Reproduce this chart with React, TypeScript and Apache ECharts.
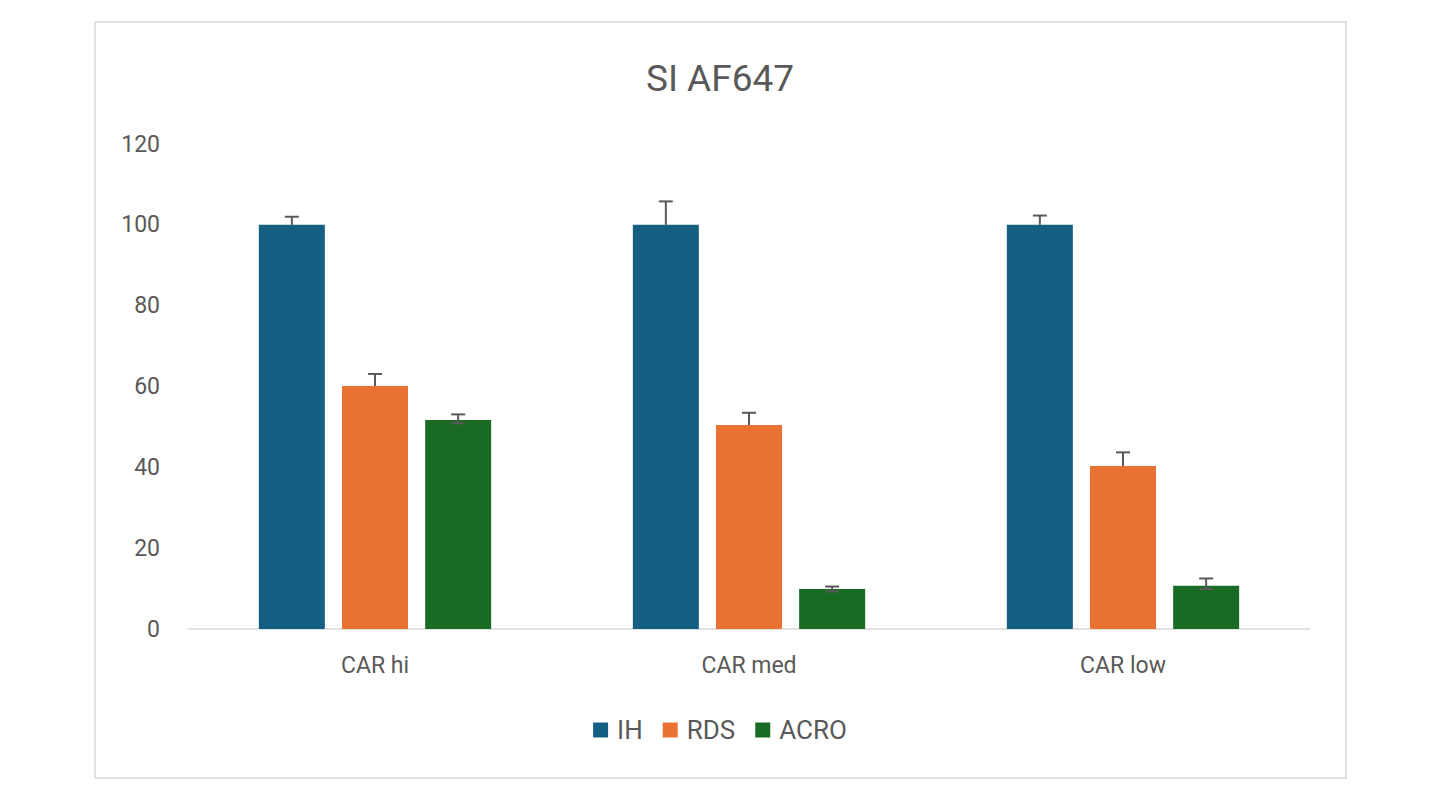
import React, { useEffect, useRef } from "react";
import * as echarts from "echarts";

const categories = ["CAR hi", "CAR med", "CAR low"];
const seriesNames = ["IH", "RDS", "ACRO"];
const ihValues = [100, 100, 100];
const rdsValues = [60.1, 50.5, 40.3];
const acroValues = [51.7, 9.9, 10.7];
// upper / lower error amounts per category
const ihErrUp = [2.0, 5.8, 2.3];
const ihErrDown = [0, 0, 0];
const rdsErrUp = [3.0, 3.0, 3.4];
const rdsErrDown = [0, 0, 0];
const acroErrUp = [1.4, 0.6, 1.8];
const acroErrDown = [0.8, 0.6, 0.8];
const colors = ["#156082", "#E97132", "#196B24"];

const BAR_WIDTH = 66;
const BAR_GAP_RATIO = 0.26;

function errorSeries(name: string, values: number[], up: number[], down: number[], idx: number) {
  const offset = (idx - 1) * BAR_WIDTH * (1 + BAR_GAP_RATIO);
  return {
    type: "custom",
    name: name + " error",
    silent: true,
    z: 10,
    data: values.map((v, i) => [i, v - down[i], v + up[i], down[i] > 0 ? 1 : 0]),
    renderItem: (params: any, api: any) => {
      const lo = api.coord([api.value(0), api.value(1)]);
      const hi = api.coord([api.value(0), api.value(2)]);
      const x = lo[0] + offset;
      const cap = 7;
      const style = { stroke: "#595959", lineWidth: 2 };
      const children: any[] = [
        { type: "line", shape: { x1: x, y1: hi[1], x2: x, y2: lo[1] }, style },
        { type: "line", shape: { x1: x - cap, y1: hi[1], x2: x + cap, y2: hi[1] }, style },
      ];
      if (api.value(3)) {
        children.push({ type: "line", shape: { x1: x - cap, y1: lo[1], x2: x + cap, y2: lo[1] }, style });
      }
      return { type: "group", children };
    },
  };
}

export default function App() {
  const ref = useRef<HTMLDivElement>(null);

  useEffect(() => {
    document.body.style.margin = "0";
    if (!ref.current) return;
    const chart = echarts.init(ref.current, undefined, { renderer: "svg" });
    const font = "Roboto, 'Noto Sans', sans-serif";
    const barBase = {
      type: "bar",
      barWidth: BAR_WIDTH,
      barGap: BAR_GAP_RATIO * 100 + "%",
    };
    chart.setOption({
      animation: false,
      textStyle: { fontFamily: font },
      title: {
        text: "SI AF647",
        left: "center",
        top: 55,
        textStyle: { fontSize: 37, fontWeight: "normal", color: "#595959", fontFamily: font },
      },
      graphic: [
        {
          type: "rect",
          shape: { x: 95, y: 22, width: 1251, height: 756 },
          style: { fill: "none", stroke: "#d9d9d9", lineWidth: 1.5 },
          silent: true,
          z: -1,
        },
      ],
      legend: {
        data: seriesNames,
        bottom: 55,
        left: "center",
        itemWidth: 15,
        itemHeight: 15,
        itemGap: 20,
        icon: "rect",
        textStyle: { fontSize: 26, color: "#595959", fontFamily: font, padding: [0, 0, 0, 4] },
      },
      grid: { left: 188, right: 130, top: 144, bottom: 174 },
      xAxis: {
        type: "category",
        data: categories,
        axisLine: { lineStyle: { color: "#d9d9d9", width: 1.5 } },
        axisTick: { show: false },
        axisLabel: { fontSize: 23, color: "#595959", margin: 25, fontFamily: font },
      },
      yAxis: {
        type: "value",
        min: 0,
        max: 120,
        interval: 20,
        splitLine: { show: false },
        axisLine: { show: false },
        axisTick: { show: false },
        axisLabel: { fontSize: 23, color: "#595959", margin: 28, fontFamily: font },
      },
      series: [
        { ...barBase, name: "IH", data: ihValues, itemStyle: { color: colors[0] } },
        { ...barBase, name: "RDS", data: rdsValues, itemStyle: { color: colors[1] } },
        { ...barBase, name: "ACRO", data: acroValues, itemStyle: { color: colors[2] } },
        errorSeries("IH", ihValues, ihErrUp, ihErrDown, 0),
        errorSeries("RDS", rdsValues, rdsErrUp, rdsErrDown, 1),
        errorSeries("ACRO", acroValues, acroErrUp, acroErrDown, 2),
      ],
    });
    return () => chart.dispose();
  }, []);

  return <div ref={ref} style={{ width: 1440, height: 803 }} />;
}
